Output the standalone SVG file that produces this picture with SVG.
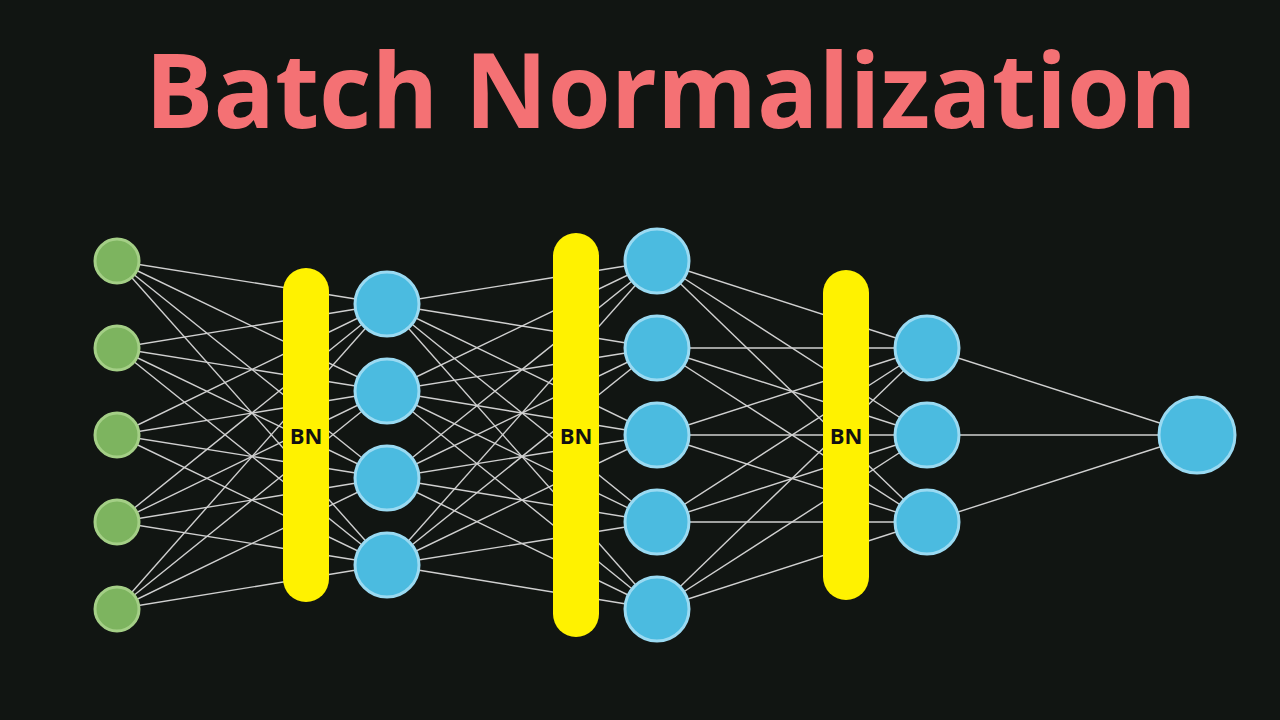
<svg xmlns="http://www.w3.org/2000/svg" width="1280" height="720" viewBox="0 0 1280 720">
<style>
.e line{stroke:#d0d0d0;stroke-width:1.4}
.in{fill:#7db45f;stroke:#a4cf86;stroke-width:3}
.hid{fill:#4bbbe0;stroke:#9adaf2;stroke-width:3}
.bn{fill:#fff200}
.bt{font-family:"Open Sans","Liberation Sans",sans-serif;font-weight:bold;font-size:22px;fill:#111;text-anchor:middle}
</style>
<rect width="1280" height="720" fill="#111512"/>
<text x="145" y="128" font-family="'Open Sans','Liberation Sans',sans-serif" font-weight="bold" font-size="104" fill="#f47174" textLength="1052" lengthAdjust="spacingAndGlyphs">Batch Normalization</text>
<g id="connectors" class="e">
<line x1="117" y1="261" x2="387" y2="304"/><line x1="117" y1="261" x2="387" y2="391"/><line x1="117" y1="261" x2="387" y2="478"/><line x1="117" y1="261" x2="387" y2="565"/>
<line x1="117" y1="348" x2="387" y2="304"/><line x1="117" y1="348" x2="387" y2="391"/><line x1="117" y1="348" x2="387" y2="478"/><line x1="117" y1="348" x2="387" y2="565"/>
<line x1="117" y1="435" x2="387" y2="304"/><line x1="117" y1="435" x2="387" y2="391"/><line x1="117" y1="435" x2="387" y2="478"/><line x1="117" y1="435" x2="387" y2="565"/>
<line x1="117" y1="522" x2="387" y2="304"/><line x1="117" y1="522" x2="387" y2="391"/><line x1="117" y1="522" x2="387" y2="478"/><line x1="117" y1="522" x2="387" y2="565"/>
<line x1="117" y1="609" x2="387" y2="304"/><line x1="117" y1="609" x2="387" y2="391"/><line x1="117" y1="609" x2="387" y2="478"/><line x1="117" y1="609" x2="387" y2="565"/>
<line x1="387" y1="304" x2="657" y2="261"/><line x1="387" y1="304" x2="657" y2="348"/><line x1="387" y1="304" x2="657" y2="435"/><line x1="387" y1="304" x2="657" y2="522"/><line x1="387" y1="304" x2="657" y2="609"/>
<line x1="387" y1="391" x2="657" y2="261"/><line x1="387" y1="391" x2="657" y2="348"/><line x1="387" y1="391" x2="657" y2="435"/><line x1="387" y1="391" x2="657" y2="522"/><line x1="387" y1="391" x2="657" y2="609"/>
<line x1="387" y1="478" x2="657" y2="261"/><line x1="387" y1="478" x2="657" y2="348"/><line x1="387" y1="478" x2="657" y2="435"/><line x1="387" y1="478" x2="657" y2="522"/><line x1="387" y1="478" x2="657" y2="609"/>
<line x1="387" y1="565" x2="657" y2="261"/><line x1="387" y1="565" x2="657" y2="348"/><line x1="387" y1="565" x2="657" y2="435"/><line x1="387" y1="565" x2="657" y2="522"/><line x1="387" y1="565" x2="657" y2="609"/>
<line x1="657" y1="261" x2="927" y2="348"/><line x1="657" y1="261" x2="927" y2="435"/><line x1="657" y1="261" x2="927" y2="522"/>
<line x1="657" y1="348" x2="927" y2="348"/><line x1="657" y1="348" x2="927" y2="435"/><line x1="657" y1="348" x2="927" y2="522"/>
<line x1="657" y1="435" x2="927" y2="348"/><line x1="657" y1="435" x2="927" y2="435"/><line x1="657" y1="435" x2="927" y2="522"/>
<line x1="657" y1="522" x2="927" y2="348"/><line x1="657" y1="522" x2="927" y2="435"/><line x1="657" y1="522" x2="927" y2="522"/>
<line x1="657" y1="609" x2="927" y2="348"/><line x1="657" y1="609" x2="927" y2="435"/><line x1="657" y1="609" x2="927" y2="522"/>
<line x1="927" y1="348" x2="1197" y2="435"/><line x1="927" y1="435" x2="1197" y2="435"/><line x1="927" y1="522" x2="1197" y2="435"/>
</g>
<g id="bn1"><rect class="bn" x="283" y="268" width="46" height="334" rx="23"/><text class="bt" x="306" y="444">BN</text></g>
<g id="bn2"><rect class="bn" x="553" y="233" width="46" height="404" rx="23"/><text class="bt" x="576" y="444">BN</text></g>
<g id="bn3"><rect class="bn" x="823" y="270" width="46" height="330" rx="23"/><text class="bt" x="846" y="444">BN</text></g>
<g id="input">
<circle class="in" cx="117" cy="261" r="22"/><circle class="in" cx="117" cy="348" r="22"/><circle class="in" cx="117" cy="435" r="22"/><circle class="in" cx="117" cy="522" r="22"/><circle class="in" cx="117" cy="609" r="22"/>
</g>
<g id="hidden1">
<circle class="hid" cx="387" cy="304" r="32"/><circle class="hid" cx="387" cy="391" r="32"/><circle class="hid" cx="387" cy="478" r="32"/><circle class="hid" cx="387" cy="565" r="32"/>
</g>
<g id="hidden2">
<circle class="hid" cx="657" cy="261" r="32"/><circle class="hid" cx="657" cy="348" r="32"/><circle class="hid" cx="657" cy="435" r="32"/><circle class="hid" cx="657" cy="522" r="32"/><circle class="hid" cx="657" cy="609" r="32"/>
</g>
<g id="hidden3">
<circle class="hid" cx="927" cy="348" r="32"/><circle class="hid" cx="927" cy="435" r="32"/><circle class="hid" cx="927" cy="522" r="32"/>
</g>
<g id="output"><circle class="hid" cx="1197" cy="435" r="38"/></g>
</svg>
